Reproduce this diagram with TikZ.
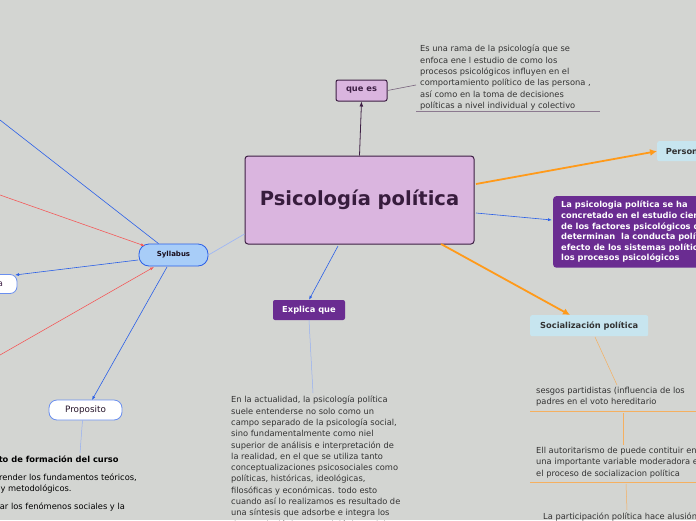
\documentclass[tikz,border=0pt]{standalone}
\usepackage{fontspec}
\setmainfont{DejaVu Sans}
\usetikzlibrary{arrows.meta}
\definecolor{bg}{HTML}{D3D5D2}
\definecolor{lilac}{HTML}{DAB5DF}
\definecolor{dpurp}{HTML}{3D1F44}
\definecolor{vpurp}{HTML}{6A2C91}
\definecolor{lblue}{HTML}{C7E5EF}
\definecolor{sblue}{HTML}{A8CDF8}
\definecolor{bblue}{HTML}{2A5FE8}
\definecolor{orng}{HTML}{FF9A1A}
\definecolor{lorng}{HTML}{F5B060}
\definecolor{rred}{HTML}{F45A5A}
\tikzset{
 txt/.style={font=\fontsize{8.3}{11.3}\selectfont, text=black!80, align=left, anchor=north west, inner sep=0pt},
 lbox/.style={fill=lblue, rounded corners=2pt, font=\bfseries\fontsize{8.3}{10}\selectfont, text=black!80, inner sep=0pt, anchor=north west, align=left},
 blu/.style={draw=bblue, line width=0.6pt, -{Latex[length=4pt,width=3pt]}},
 red/.style={draw=rred, line width=0.6pt, -{Latex[length=4pt,width=3pt]}},
 org/.style={draw=orng, line width=1.8pt, -{Latex[length=7pt,width=7pt]}},
 thin/.style={draw=lorng, line width=0.5pt},
}
\begin{document}
\begin{tikzpicture}[x=1pt,y=-1pt]
\useasboundingbox (0,0) rectangle (696,520);
\clip (0,0) rectangle (696,520);
\fill[bg] (0,0) rectangle (696,520);
% central
\node[draw=dpurp, line width=1pt, fill=lilac, rounded corners=3pt, minimum width=229, minimum height=88, font=\bfseries\fontsize{19.5}{22}\selectfont, text=dpurp!90!black] (c) at (359.5,200) {Psicología política};
% que es
\node[draw=dpurp, line width=1pt, fill=lilac, rounded corners=2pt, minimum width=51, minimum height=21, font=\bfseries\fontsize{8.3}{10}\selectfont, text=dpurp] (q) at (361.5,90.5) {que es};
\node[txt] (qt) at (420,45) {Es una rama de la psicología que se\\enfoca ene l estudio de como los\\procesos psicológicos influyen en el\\comportamiento político de las persona ,\\así como en la toma de decisiones\\políticas a nivel individual y colectivo};
\coordinate (qa) at (416,85);
\coordinate (ql1) at (416,111); \coordinate (ql2) at (600,111);
\draw[draw=dpurp!60, line width=0.6pt] (ql1) -- (ql2);
\draw[draw=dpurp!70, line width=0.6pt] (q.east) -- (qa);
\draw[draw=dpurp, line width=0.8pt, -{Latex[length=5pt,width=4pt]}] (c.north) -- (q.south);
% Personas
\node[lbox, minimum width=60, minimum height=20, inner xsep=8pt] (p) at (657,141) {Personas};
\draw[org] (476,184) -- (p.west);
% purple box
\node[fill=vpurp, rounded corners=3pt, anchor=north west, text=white, font=\bfseries\fontsize{8.3}{10.6}\selectfont, align=left, inner xsep=8pt, inner ysep=5pt] (v) at (553,196) {La psicologia política se ha\\concretado en el estudio científico\\de los factores psicológicos que\\determinan \ la conducta política y el\\efecto de los sistemas políticos en\\los procesos psicológicos};
\draw[blu] (476,213) -- (552,220);
% Socializacion
\node[lbox, minimum width=118, minimum height=21, inner xsep=8pt] (s) at (530,315) {Socialización política};
\draw[org] (441,244) -- (570,315);
\node[txt] (s1) at (536,387) {sesgos partidistas (influencia de los\\padres en el voto hereditario};
\draw[thin] (530,411) -- (700,411);
\draw[thin] (595,337) -- (617,385);
\node[txt] (s2) at (536,447) {Ell autoritarismo de puede contituir en\\una importante variable moderadora en\\el proceso de socializacion política};
\draw[thin] (530,482) -- (700,482);
\draw[thin] (623,413) -- (623,445);
\node[txt] (s3) at (543,513) {La participación política hace alusión};
\draw[thin] (626,484) -- (627,510);
% Explica que
\node[fill=vpurp, rounded corners=2pt, minimum width=72, minimum height=20, text=white, font=\bfseries\fontsize{8.3}{10}\selectfont] (e) at (309,310) {Explica que};
\draw[blu] (338,246) -- (e.north);
\node[txt] (et) at (231,396) {En la actualidad, la psicología política\\suele entenderse no solo como un\\campo separado de la psicología social,\\sino fundamentalmente como niel\\superior de análisis e interpretación de\\la realidad, en el que se utiliza tanto\\conceptualizaciones psicosociales como\\políticas, históricas, ideológicas,\\filosóficas y económicas. todo esto\\cuando así lo realizamos es resultado de\\una síntesis que adsorbe e integra los\\datos psicológicos y sociológicos, del};
\draw[draw=bblue!50, line width=0.5pt] (e.south) -- (313,393);
% Syllabus
\node[draw=bblue, line width=0.8pt, fill=sblue, rounded corners=10pt, minimum width=69, minimum height=22, font=\bfseries\fontsize{7}{8}\selectfont, text=dpurp!40!black] (y) at (173.5,255) {Syllabus};
\draw[draw=bblue!45, line width=0.7pt] (c.south west |- 0,234) -- (y.east);
\coordinate (o1) at (0,120);
\draw[draw=bblue, line width=0.6pt] (y.north) ++(-15,0) -- (o1);
\coordinate (o2) at (0,195);
\draw[red] (o2) -- (145,246);
\coordinate (o3) at (0,355);
\draw[red] (o3) -- (154,267);
\node[draw=bblue!70, line width=0.8pt, fill=white, rounded corners=7pt, minimum width=50, minimum height=19, font=\fontsize{8.3}{10}\selectfont, text=dpurp] (l) at (-8,284) {Tema};
\draw[blu] (138,260) -- (15,275);
\node[draw=bblue!70, line width=0.8pt, fill=white, rounded corners=8pt, minimum width=73, minimum height=20, font=\fontsize{8.8}{10}\selectfont, text=dpurp!60!black] (pr) at (85.5,410) {Proposito};
\draw[blu] (167,267) -- (92,400);
\draw[draw=bblue!50, line width=0.5pt] (pr.south) ++(-3,0) -- (80,453);
\node[txt, text=black, anchor=north east, align=left] (pt) at (137,456) {\textbf{Propósito de formación del curso}\\[6pt]1. Comprender los fundamentos teóricos,\\técnicos y metodológicos.\hfill\null\\[7pt]2. Analizar los fenómenos sociales y la\\realidad\hfill\null};
\end{tikzpicture}
\end{document}
